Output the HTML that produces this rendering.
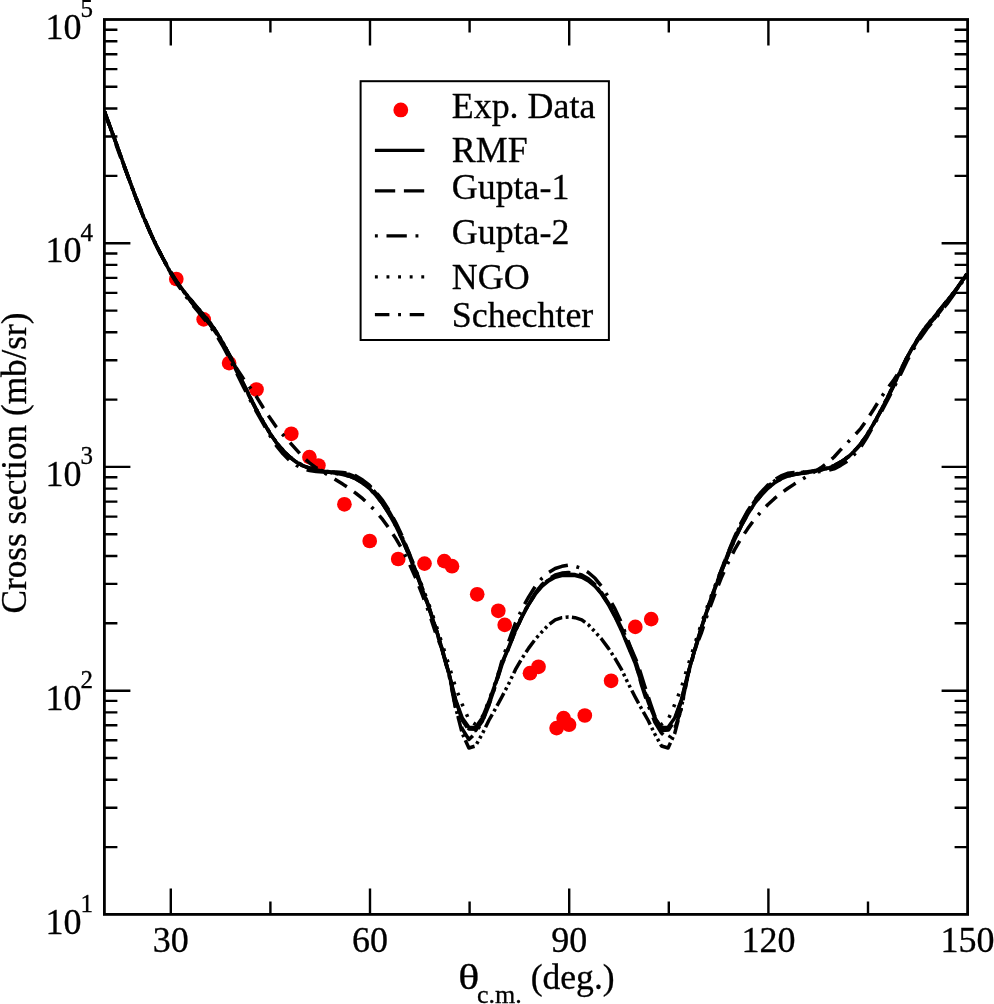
<!DOCTYPE html>
<html lang="en">
<head>
<meta charset="utf-8">
<title>Cross section vs. centre-of-mass angle</title>
<style>
html,body{margin:0;padding:0;background:#fff;}
body{width:994px;height:1004px;overflow:hidden;}
svg{display:block;}
text{font-family:"Liberation Serif","Times New Roman",Times,serif;fill:#000;stroke:#000;stroke-width:0.3;}
.c{fill:none;stroke:#000;stroke-width:3.5;stroke-linejoin:round;stroke-linecap:butt;}
.l{stroke-width:3.2;}
</style>
</head>
<body>
<svg width="994" height="1004" viewBox="0 0 994 1004">
<rect x="0" y="0" width="994" height="1004" fill="#fff"/>
<defs><clipPath id="fr"><rect x="104.4" y="19.5" width="863.2" height="894.9"/></clipPath></defs>
<!-- experimental data -->
<g fill="#ff0000">
<circle cx="176.3" cy="279" r="7.35"/><circle cx="203.7" cy="319.4" r="7.35"/><circle cx="229.1" cy="363.1" r="7.35"/><circle cx="256.5" cy="389.5" r="7.35"/><circle cx="291.3" cy="433.8" r="7.35"/><circle cx="309.4" cy="457.1" r="7.35"/><circle cx="318.4" cy="465.5" r="7.35"/><circle cx="344.4" cy="504.3" r="7.35"/><circle cx="369.7" cy="541" r="7.35"/><circle cx="398.2" cy="559" r="7.35"/><circle cx="424.5" cy="563.6" r="7.35"/><circle cx="444.3" cy="561.1" r="7.35"/><circle cx="452" cy="566.2" r="7.35"/><circle cx="477.2" cy="594.3" r="7.35"/><circle cx="498.3" cy="610.8" r="7.35"/><circle cx="504.7" cy="624.9" r="7.35"/><circle cx="530" cy="673.2" r="7.35"/><circle cx="538.5" cy="666.8" r="7.35"/><circle cx="556.6" cy="728.1" r="7.35"/><circle cx="563.6" cy="718.1" r="7.35"/><circle cx="569" cy="724.7" r="7.35"/><circle cx="584.8" cy="715.5" r="7.35"/><circle cx="611.1" cy="680.8" r="7.35"/><circle cx="635.3" cy="626.9" r="7.35"/><circle cx="651.2" cy="619.1" r="7.35"/>
</g>
<!-- model curves -->
<g clip-path="url(#fr)">
<path class="c" d="M104.4,111.3 L110.3,127.4 L117.0,145.6 L123.6,164.2 L130.3,182.7 L136.9,200.3 L143.5,217.0 L150.2,232.5 L156.8,246.4 L163.5,259.5 L170.1,271.8 L176.7,281.9 L183.4,290.8 L190.0,298.9 L196.7,306.9 L203.3,314.6 L209.9,322.6 L216.6,332.3 L223.2,343.3 L229.9,355.8 L236.5,369.5 L243.1,383.0 L249.8,396.6 L256.4,409.7 L263.1,421.8 L269.7,432.9 L276.3,442.6 L283.0,450.5 L289.6,457.0 L296.3,462.1 L302.9,465.9 L309.5,468.3 L316.2,470.0 L322.8,471.3 L329.5,472.2 L336.1,473.3 L342.7,474.0 L349.4,474.3 L356.0,476.9 L362.7,481.0 L369.3,486.2 L375.9,493.1 L382.6,501.4 L389.2,511.7 L395.9,523.8 L402.5,537.8 L409.1,553.7 L415.8,570.8 L422.4,588.8 L429.1,607.7 L435.7,627.9 L442.3,649.7 L449.0,673.5 L455.6,707.5 L462.3,733.5 L468.9,748.0 L475.5,746.0 L482.2,734.0 L488.8,720.5 L495.5,708.7 L502.1,696.5 L508.7,683.7 L515.4,669.7 L522.0,658.4 L528.7,648.1 L535.3,639.2 L541.9,631.9 L548.6,624.8 L555.2,619.9 L561.9,617.7 L568.5,617.0 L575.1,617.7 L581.8,619.9 L588.4,624.8 L595.1,631.9 L601.7,639.2 L608.3,648.1 L615.0,658.4 L621.6,669.7 L628.3,683.7 L634.9,696.5 L641.5,708.7 L648.2,720.5 L654.8,734.0 L661.5,746.0 L668.1,748.0 L674.7,733.5 L681.4,707.5 L688.0,673.5 L694.7,649.7 L701.3,627.9 L707.9,607.7 L714.6,588.8 L721.2,570.8 L727.9,553.7 L734.5,537.8 L741.1,523.8 L747.8,511.7 L754.4,501.4 L761.1,493.1 L767.7,486.2 L774.3,481.0 L781.0,476.9 L787.6,474.3 L794.3,474.0 L800.9,473.3 L807.5,472.2 L814.2,471.3 L820.8,470.0 L827.5,468.3 L834.1,465.9 L840.7,462.1 L847.4,457.6 L854.0,451.6 L860.7,444.1 L867.3,434.4 L873.9,423.3 L880.6,411.2 L887.2,398.1 L893.9,384.5 L900.5,371.0 L907.1,357.3 L913.8,345.3 L920.4,334.6 L927.1,325.2 L933.7,317.6 L940.3,309.1 L947.0,300.9 L953.6,292.7 L960.3,283.7 L966.9,274.0" stroke-dasharray="14.5 3.4 2.9 3.4 14.5 3.4 2.9 3.4 2.9 3.4 2.9 3.4"/>
<path class="c" d="M104.4,111.3 L110.3,128.6 L117.0,147.3 L123.6,165.4 L130.3,182.7 L136.9,199.6 L143.5,216.2 L150.2,232.0 L156.8,246.4 L163.5,259.2 L170.1,270.7 L176.7,281.4 L183.4,291.3 L190.0,300.6 L196.7,308.8 L203.3,316.3 L209.9,324.4 L216.6,333.8 L223.2,344.1 L229.9,355.8 L236.5,368.2 L243.1,378.2 L249.8,387.2 L256.4,396.6 L263.1,407.5 L269.7,417.6 L276.3,427.1 L283.0,434.8 L289.6,442.2 L296.3,449.6 L302.9,457.0 L309.5,462.8 L316.2,467.8 L322.8,472.0 L329.5,476.0 L336.1,480.0 L342.7,484.1 L349.4,488.5 L356.0,493.3 L362.7,498.7 L369.3,504.7 L375.9,511.6 L382.6,519.4 L389.2,528.6 L395.9,538.6 L402.5,549.9 L409.1,563.1 L415.8,578.1 L422.4,594.9 L429.1,613.1 L435.7,633.1 L442.3,649.9 L449.0,674.1 L455.6,700.5 L462.3,719.5 L468.9,729.1 L475.5,729.2 L482.2,719.6 L488.8,703.4 L495.5,684.2 L502.1,663.4 L508.7,647.7 L515.4,631.0 L522.0,616.7 L528.7,604.2 L535.3,593.7 L541.9,585.6 L548.6,580.0 L555.2,576.4 L561.9,574.6 L568.5,574.2 L575.1,574.6 L581.8,576.4 L588.4,580.0 L595.1,585.6 L601.7,593.7 L608.6,604.2 L615.4,616.7 L622.4,631.0 L629.6,647.7 L636.4,663.4 L643.0,684.2 L649.5,703.4 L655.8,719.6 L662.0,729.2 L668.3,729.1 L674.7,719.5 L681.4,700.5 L688.0,674.1 L694.7,649.9 L701.3,633.1 L707.9,613.1 L714.6,594.9 L721.2,578.1 L727.9,563.1 L734.5,549.9 L741.1,538.6 L747.8,528.6 L754.4,519.4 L761.1,511.6 L767.7,504.7 L774.3,498.7 L781.0,493.3 L787.6,488.5 L794.3,484.1 L800.9,480.0 L807.5,476.0 L814.2,472.0 L820.8,467.8 L827.5,462.8 L834.1,457.0 L840.7,449.7 L847.4,442.7 L854.0,435.9 L860.7,428.6 L867.3,419.1 L873.9,409.0 L880.6,398.1 L887.2,388.7 L893.9,379.7 L900.5,369.7 L907.1,357.3 L913.8,346.1 L920.4,336.1 L927.1,327.0 L933.7,319.2 L940.3,311.1 L947.0,302.6 L953.6,293.2 L960.3,283.2 L966.9,273.0" stroke-dasharray="14.5 8.7 2.9 8.7 14.5 8.7"/>
<path class="c" d="M104.4,111.3 L110.3,127.4 L117.0,145.7 L123.6,164.3 L130.3,182.9 L136.9,200.5 L143.5,217.3 L150.2,232.9 L156.8,246.8 L163.5,259.9 L170.1,272.3 L176.7,283.2 L183.4,293.0 L190.0,301.9 L196.7,309.9 L203.3,317.8 L209.9,325.8 L216.6,335.5 L223.2,346.7 L229.9,359.2 L236.5,372.9 L243.1,386.2 L249.8,399.3 L256.4,411.7 L263.1,423.4 L269.7,435.2 L276.3,445.6 L283.0,453.8 L289.6,460.5 L296.3,465.3 L302.9,468.9 L309.5,470.6 L316.2,471.5 L322.8,472.1 L329.5,472.7 L336.1,473.5 L342.7,474.6 L349.4,476.2 L356.0,479.0 L362.7,483.1 L369.3,488.4 L375.9,495.3 L382.6,503.7 L389.2,514.1 L395.9,526.2 L402.5,540.1 L409.1,555.5 L415.8,572.1 L422.4,589.8 L429.1,608.8 L435.7,629.0 L442.3,651.1 L449.0,674.8 L455.6,708.5 L462.3,729.0 L468.9,739.5 L475.5,733.0 L482.2,722.0 L488.8,705.5 L495.5,685.0 L502.1,660.0 L508.7,641.3 L515.4,623.0 L522.0,608.9 L528.7,596.9 L535.3,586.4 L541.9,578.3 L548.6,572.5 L555.2,568.5 L561.9,566.3 L568.5,565.2 L575.1,566.3 L581.8,568.5 L588.4,572.5 L595.1,578.3 L601.7,586.4 L608.3,596.9 L615.0,608.9 L621.6,623.0 L628.3,641.3 L634.9,660.0 L641.5,685.0 L648.2,705.5 L654.8,722.0 L661.5,733.0 L668.1,739.5 L674.7,729.0 L681.4,708.5 L688.0,674.8 L694.7,651.1 L701.3,629.0 L707.9,608.8 L714.6,589.8 L721.2,572.1 L727.9,555.5 L734.5,540.1 L741.1,526.2 L747.8,514.1 L754.4,503.7 L761.1,495.3 L767.7,488.4 L774.3,483.1 L781.0,479.0 L787.6,476.2 L794.3,474.6 L800.9,473.5 L807.5,472.7 L814.2,472.1 L820.8,471.5 L827.5,470.6 L834.1,468.9 L840.7,465.4 L847.4,461.1 L854.0,454.8 L860.7,447.1 L867.3,436.7 L873.9,424.9 L880.6,413.2 L887.2,400.8 L893.9,387.7 L900.5,374.4 L907.1,360.7 L913.8,348.7 L920.4,337.9 L927.1,328.4 L933.7,320.7 L940.3,312.2 L947.0,303.9 L953.6,294.8 L960.3,285.1 L966.9,274.5" stroke-dasharray="2.9 8.7 20.3 8.7"/>
<path class="c" d="M104.4,111.3 L110.3,127.4 L117.0,145.6 L123.6,164.2 L130.3,182.7 L136.9,200.3 L143.5,217.0 L150.2,232.5 L156.8,246.4 L163.5,259.5 L170.1,271.8 L176.7,282.4 L183.4,291.8 L190.0,300.4 L196.7,308.4 L203.3,316.1 L209.9,324.1 L216.6,333.8 L223.2,344.8 L229.9,357.3 L236.5,371.0 L243.1,384.3 L249.8,397.5 L256.4,410.1 L263.1,421.8 L269.7,432.9 L276.3,442.5 L283.0,450.4 L289.6,456.8 L296.3,461.8 L302.9,465.6 L309.5,468.0 L316.2,469.6 L322.8,470.8 L329.5,471.7 L336.1,472.0 L342.7,472.5 L349.4,473.3 L356.0,475.9 L362.7,480.0 L369.3,485.2 L375.9,492.1 L382.6,500.4 L389.2,510.7 L395.9,522.8 L402.5,536.9 L409.1,552.9 L415.8,570.2 L422.4,588.3 L429.1,607.4 L435.7,627.8 L442.3,650.0 L449.0,674.4 L455.6,701.1 L462.3,720.2 L468.9,730.1 L475.5,730.6 L482.2,721.5 L488.8,704.9 L495.5,685.4 L502.1,664.3 L508.7,648.2 L515.4,631.2 L522.0,616.6 L528.7,603.8 L535.3,592.9 L541.9,584.6 L548.6,578.8 L555.2,575.0 L561.9,573.1 L568.5,572.6 L575.1,573.1 L581.8,575.0 L588.4,578.8 L595.1,584.6 L601.8,592.9 L608.8,603.8 L615.8,616.6 L623.2,631.2 L631.0,648.2 L637.9,664.3 L644.5,685.4 L650.9,704.9 L656.7,721.5 L662.5,730.6 L668.5,730.1 L674.7,720.2 L681.4,701.1 L688.0,674.4 L694.7,650.0 L701.3,627.8 L707.9,607.4 L714.6,588.3 L721.2,570.2 L727.9,552.9 L734.5,536.9 L741.1,522.8 L747.8,510.7 L754.4,500.4 L761.1,492.1 L767.7,485.2 L774.3,480.0 L781.0,475.9 L787.6,473.3 L794.3,472.5 L800.9,472.0 L807.5,471.7 L814.2,470.8 L820.8,469.6 L827.5,468.0 L834.1,465.6 L840.7,461.9 L847.4,457.4 L854.0,451.4 L860.7,444.0 L867.3,434.4 L873.9,423.3 L880.6,411.6 L887.2,399.0 L893.9,385.8 L900.5,372.5 L907.1,358.8 L913.8,346.8 L920.4,336.1 L927.1,326.7 L933.7,319.1 L940.3,310.6 L947.0,302.4 L953.6,293.7 L960.3,284.2 L966.9,274.0" stroke-dasharray="20.3 8.7"/>
<path class="c" d="M104.4,111.3 L110.3,127.4 L117.0,145.6 L123.6,164.1 L130.3,182.6 L136.9,200.2 L143.5,216.9 L150.2,232.4 L156.8,246.3 L163.5,259.4 L170.1,271.6 L176.7,281.7 L183.4,290.6 L190.0,298.7 L196.7,306.6 L203.3,314.4 L209.9,322.4 L216.6,332.0 L223.2,343.1 L229.9,355.5 L236.5,369.2 L243.1,382.7 L249.8,396.3 L256.4,409.3 L263.1,421.5 L269.7,432.6 L276.3,442.2 L283.0,450.1 L289.6,456.6 L296.3,461.6 L302.9,465.5 L309.5,467.9 L316.2,469.6 L322.8,470.8 L329.5,471.7 L336.1,472.5 L342.7,473.4 L349.4,474.8 L356.0,477.5 L362.7,481.6 L369.3,486.9 L375.9,493.8 L382.6,502.2 L389.2,512.6 L395.9,524.7 L402.5,538.5 L409.1,553.7 L415.8,570.1 L422.4,586.9 L429.1,604.9 L435.7,624.0 L442.3,644.3 L449.0,665.5 L455.6,687.5 L462.3,704.5 L468.9,719.7 L475.5,724.4 L482.2,717.0 L488.8,701.0 L495.5,682.0 L502.1,661.5 L508.7,646.1 L515.4,629.7 L522.0,615.8 L528.7,603.5 L535.3,593.2 L541.9,585.3 L548.6,579.9 L555.2,576.3 L561.9,574.6 L568.5,574.2 L575.1,574.6 L581.8,576.3 L588.4,579.9 L595.1,585.3 L601.7,593.2 L608.3,603.5 L615.0,615.8 L621.6,629.7 L628.3,646.1 L634.9,661.5 L641.5,682.0 L648.2,701.0 L654.8,717.0 L661.5,724.4 L668.1,719.7 L674.7,704.5 L681.4,687.5 L688.0,665.5 L694.7,644.3 L701.3,624.0 L707.9,604.9 L714.6,586.9 L721.2,570.1 L727.9,553.7 L734.5,538.5 L741.1,524.7 L747.8,512.6 L754.4,502.2 L761.1,493.8 L767.7,486.9 L774.3,481.6 L781.0,477.5 L787.6,474.8 L794.3,473.4 L800.9,472.5 L807.5,471.7 L814.2,470.8 L820.8,469.6 L827.5,467.9 L834.1,465.5 L840.7,461.7 L847.4,457.2 L854.0,451.2 L860.7,443.7 L867.3,434.1 L873.9,423.0 L880.6,410.8 L887.2,397.8 L893.9,384.2 L900.5,370.7 L907.1,357.0 L913.8,345.1 L920.4,334.4 L927.1,325.0 L933.7,317.3 L940.3,308.9 L947.0,300.8 L953.6,292.5 L960.3,283.6 L966.9,273.8" stroke-dasharray="2.9 8.7"/>
<path class="c" d="M104.4,111.3 L110.3,127.4 L117.0,145.6 L123.6,164.2 L130.3,182.7 L136.9,200.3 L143.5,217.0 L150.2,232.5 L156.8,246.4 L163.5,259.5 L170.1,271.8 L176.7,281.9 L183.4,290.8 L190.0,298.9 L196.7,306.9 L203.3,314.6 L209.9,322.6 L216.6,332.3 L223.2,343.3 L229.9,355.8 L236.5,369.5 L243.1,383.0 L249.8,396.6 L256.4,409.7 L263.1,421.8 L269.7,432.9 L276.3,442.6 L283.0,450.5 L289.6,457.0 L296.3,462.1 L302.9,465.9 L309.5,468.3 L316.2,470.0 L322.8,471.3 L329.5,472.2 L336.1,473.3 L342.7,474.6 L349.4,476.2 L356.0,479.0 L362.7,483.1 L369.3,488.4 L375.9,495.3 L382.6,503.7 L389.2,514.1 L395.9,526.2 L402.5,540.1 L409.1,555.5 L415.8,572.1 L422.4,589.7 L429.1,608.3 L435.7,628.1 L442.3,649.7 L449.0,673.5 L455.6,699.5 L462.3,718.0 L468.9,727.2 L475.5,727.4 L482.2,718.0 L488.8,702.0 L495.5,683.0 L502.1,662.5 L508.7,647.1 L515.4,630.7 L522.0,616.8 L528.7,604.5 L535.3,594.2 L541.9,586.3 L548.6,580.9 L555.2,577.3 L561.9,575.6 L568.5,575.2 L575.1,575.6 L581.8,577.3 L588.4,580.9 L595.1,586.3 L601.7,594.2 L608.3,604.5 L615.0,616.8 L621.6,630.7 L628.3,647.1 L634.9,662.5 L641.5,683.0 L648.2,702.0 L654.8,718.0 L661.5,727.4 L668.1,727.2 L674.7,718.0 L681.4,699.5 L688.0,673.5 L694.7,649.7 L701.3,628.1 L707.9,608.3 L714.6,589.7 L721.2,572.1 L727.9,555.5 L734.5,540.1 L741.1,526.2 L747.8,514.1 L754.4,503.7 L761.1,495.3 L767.7,488.4 L774.3,483.1 L781.0,479.0 L787.6,476.2 L794.3,474.6 L800.9,473.3 L807.5,472.2 L814.2,471.3 L820.8,470.0 L827.5,468.3 L834.1,465.9 L840.7,462.1 L847.4,457.6 L854.0,451.6 L860.7,444.1 L867.3,434.4 L873.9,423.3 L880.6,411.2 L887.2,398.1 L893.9,384.5 L900.5,371.0 L907.1,357.3 L913.8,345.3 L920.4,334.6 L927.1,325.2 L933.7,317.6 L940.3,309.1 L947.0,300.9 L953.6,292.7 L960.3,283.7 L966.9,274.0"/>
</g>
<!-- ticks and frame -->
<path d="M170.8,914.4L170.8,888.4 M170.8,19.5L170.8,45.5 M270.4,914.4L270.4,901.4 M270.4,19.5L270.4,32.5 M370.0,914.4L370.0,888.4 M370.0,19.5L370.0,45.5 M469.6,914.4L469.6,901.4 M469.6,19.5L469.6,32.5 M569.2,914.4L569.2,888.4 M569.2,19.5L569.2,45.5 M668.8,914.4L668.8,901.4 M668.8,19.5L668.8,32.5 M768.4,914.4L768.4,888.4 M768.4,19.5L768.4,45.5 M868.0,914.4L868.0,901.4 M868.0,19.5L868.0,32.5 M104.4,847.1L117.4,847.1 M967.6,847.1L954.6,847.1 M104.4,807.7L117.4,807.7 M967.6,807.7L954.6,807.7 M104.4,779.7L117.4,779.7 M967.6,779.7L954.6,779.7 M104.4,758.0L117.4,758.0 M967.6,758.0L954.6,758.0 M104.4,740.3L117.4,740.3 M967.6,740.3L954.6,740.3 M104.4,725.3L117.4,725.3 M967.6,725.3L954.6,725.3 M104.4,712.4L117.4,712.4 M967.6,712.4L954.6,712.4 M104.4,700.9L117.4,700.9 M967.6,700.9L954.6,700.9 M104.4,690.7L130.4,690.7 M967.6,690.7L941.6,690.7 M104.4,623.3L117.4,623.3 M967.6,623.3L954.6,623.3 M104.4,583.9L117.4,583.9 M967.6,583.9L954.6,583.9 M104.4,556.0L117.4,556.0 M967.6,556.0L954.6,556.0 M104.4,534.3L117.4,534.3 M967.6,534.3L954.6,534.3 M104.4,516.6L117.4,516.6 M967.6,516.6L954.6,516.6 M104.4,501.6L117.4,501.6 M967.6,501.6L954.6,501.6 M104.4,488.6L117.4,488.6 M967.6,488.6L954.6,488.6 M104.4,477.2L117.4,477.2 M967.6,477.2L954.6,477.2 M104.4,466.9L130.4,466.9 M967.6,466.9L941.6,466.9 M104.4,399.6L117.4,399.6 M967.6,399.6L954.6,399.6 M104.4,360.2L117.4,360.2 M967.6,360.2L954.6,360.2 M104.4,332.3L117.4,332.3 M967.6,332.3L954.6,332.3 M104.4,310.6L117.4,310.6 M967.6,310.6L954.6,310.6 M104.4,292.9L117.4,292.9 M967.6,292.9L954.6,292.9 M104.4,277.9L117.4,277.9 M967.6,277.9L954.6,277.9 M104.4,264.9L117.4,264.9 M967.6,264.9L954.6,264.9 M104.4,253.5L117.4,253.5 M967.6,253.5L954.6,253.5 M104.4,243.2L130.4,243.2 M967.6,243.2L941.6,243.2 M104.4,175.9L117.4,175.9 M967.6,175.9L954.6,175.9 M104.4,136.5L117.4,136.5 M967.6,136.5L954.6,136.5 M104.4,108.5L117.4,108.5 M967.6,108.5L954.6,108.5 M104.4,86.8L117.4,86.8 M967.6,86.8L954.6,86.8 M104.4,69.1L117.4,69.1 M967.6,69.1L954.6,69.1 M104.4,54.2L117.4,54.2 M967.6,54.2L954.6,54.2 M104.4,41.2L117.4,41.2 M967.6,41.2L954.6,41.2 M104.4,29.7L117.4,29.7 M967.6,29.7L954.6,29.7" fill="none" stroke="#000" stroke-width="2.4"/>
<rect x="104.4" y="19.5" width="863.2" height="894.9" fill="none" stroke="#000" stroke-width="2.8"/>
<!-- axis tick labels -->
<text x="45.6" y="933.6" font-size="36">10<tspan font-size="25" dy="-21.9" dx="-1.1">1</tspan></text>
<text x="45.6" y="709.9" font-size="36">10<tspan font-size="25" dy="-21.9" dx="-1.1">2</tspan></text>
<text x="45.6" y="486.1" font-size="36">10<tspan font-size="25" dy="-21.9" dx="-1.1">3</tspan></text>
<text x="45.6" y="262.4" font-size="36">10<tspan font-size="25" dy="-21.9" dx="-1.1">4</tspan></text>
<text x="45.6" y="38.7" font-size="36">10<tspan font-size="25" dy="-21.9" dx="-1.1">5</tspan></text>
<text x="170.8" y="951.8" font-size="36" text-anchor="middle">30</text>
<text x="370.0" y="951.8" font-size="36" text-anchor="middle">60</text>
<text x="569.2" y="951.8" font-size="36" text-anchor="middle">90</text>
<text x="768.4" y="951.8" font-size="36" text-anchor="middle">120</text>
<text x="967.6" y="951.8" font-size="36" text-anchor="middle">150</text>
<!-- axis titles -->
<text transform="translate(25.6,463) rotate(-90)" font-size="35.2" text-anchor="middle">Cross section (mb/sr)</text>
<text transform="translate(458.2,989.4) scale(1.22,1)" font-size="36">θ</text>
<text x="477.0" y="1002.5" font-size="26">c.m.</text>
<text x="530.7" y="989.4" font-size="35.6">(deg.)</text>
<!-- legend -->
<rect x="360.6" y="81.2" width="248.3" height="258.8" fill="#fff" stroke="#000" stroke-width="2"/>
<circle cx="400.8" cy="109.9" r="7.4" fill="#ff0000"/>
<path class="c l" d="M374.9,150.3H424.4"/>
<path class="c l" d="M374.9,190.9H424.4" stroke-dasharray="20.3 8.7"/>
<path class="c l" d="M374.9,235.8H424.4" stroke-dasharray="2.9 8.7 20.3 8.7 2.9 8.7"/>
<path class="c l" d="M374.9,276.8H424.4" stroke-dasharray="2.9 8.7"/>
<path class="c l" d="M374.9,314.7H424.4" stroke-dasharray="14.5 8.7 2.9 8.7"/>
<text x="451.8" y="118.3" font-size="35.9">Exp. Data</text>
<text x="451.8" y="161.8" font-size="35.9">RMF</text>
<text x="451.8" y="198.9" font-size="35.9">Gupta-1</text>
<text x="451.8" y="244.3" font-size="35.9">Gupta-2</text>
<text x="451.8" y="288.5" font-size="35.9">NGO</text>
<text x="451.8" y="327.2" font-size="35.9">Schechter</text>
</svg>
</body>
</html>
